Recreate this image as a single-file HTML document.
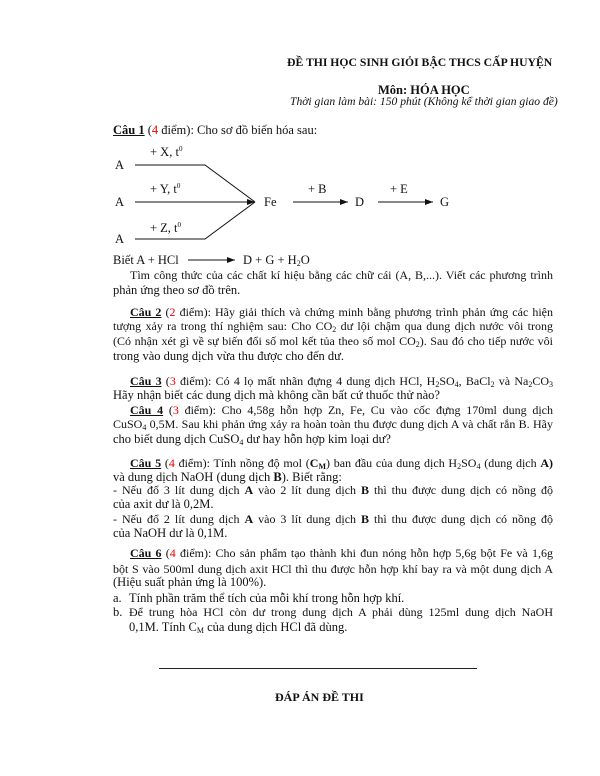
<!DOCTYPE html>
<html><head><meta charset="utf-8"><style>
body{margin:0;background:#fff;}
#p{position:relative;width:600px;height:776px;background:#fff;font-family:"Liberation Serif",serif;font-size:12.5px;color:#111;}
.l{position:absolute;white-space:nowrap;line-height:16px;height:16px;}
.j{text-align:justify;text-align-last:justify;white-space:normal;overflow:hidden;font-size:12px;}
.r{color:#e00;}
u{text-decoration:underline;}
sub{font-size:8px;vertical-align:-2px;line-height:0;}
sup{font-size:7px;vertical-align:5px;line-height:0;}
</style></head><body><div id="p">
<div class="l" style="left:287px;top:55px;font-weight:bold;font-size:11.7px;">ĐỀ THI HỌC SINH GIỎI BẬC THCS CẤP HUYỆN</div>
<div class="l" style="left:378px;top:82px;font-weight:bold;">Môn: HÓA HỌC</div>
<div class="l" style="left:290px;top:94px;font-style:italic;font-size:11.6px;">Thời gian làm bài: 150 phút (Không kể thời gian giao đề)</div>
<div class="l" style="left:113px;top:122px;"><b><u>Câu 1</u></b> (<span class="r">4</span> điểm): Cho sơ đồ biến hóa sau:</div>

<svg style="position:absolute;left:0;top:0" width="600" height="300">
<defs><marker id="a" markerWidth="8" markerHeight="6" refX="8" refY="3" orient="auto" markerUnits="userSpaceOnUse"><path d="M0,0L8,3L0,6z" fill="#111"/></marker></defs>
<g stroke="#111" stroke-width="1" fill="none">
<path d="M135,165H205L255,202"/>
<path d="M135,202H255" marker-end="url(#a)"/>
<path d="M135,239H205L255,202"/>
<path d="M293,202H348" marker-end="url(#a)"/>
<path d="M378,202H433" marker-end="url(#a)"/>
<path d="M188,260H235" marker-end="url(#a)"/>
</g></svg>
<div class="l" style="left:115px;top:157px;">A</div>
<div class="l" style="left:115px;top:194px;">A</div>
<div class="l" style="left:115px;top:231px;">A</div>
<div class="l" style="left:150px;top:144px;">+ X, t<sup>0</sup></div>
<div class="l" style="left:150px;top:181px;">+ Y, t<sup>0</sup></div>
<div class="l" style="left:150px;top:220px;">+ Z, t<sup>0</sup></div>
<div class="l" style="left:264px;top:194px;">Fe</div>
<div class="l" style="left:308px;top:181px;">+ B</div>
<div class="l" style="left:355px;top:194px;">D</div>
<div class="l" style="left:390px;top:181px;">+ E</div>
<div class="l" style="left:440px;top:194px;">G</div>
<div class="l" style="left:113px;top:252px;">Biết A + HCl</div>
<div class="l" style="left:243px;top:252px;">D + G + H<sub>2</sub>O</div>

<div class="l j" style="left:130px;width:423px;top:267px;">Tìm công thức của các chất kí hiệu bằng các chữ cái (A, B,...). Viết các phương trình</div>
<div class="l" style="left:113px;top:282px;">phản ứng theo sơ đồ trên.</div>

<div class="l j" style="left:130px;width:423px;top:304px;"><b><u>Câu 2</u></b> (<span class="r">2</span> điểm): Hãy giải thích và chứng minh bằng phương trình phản ứng các hiện</div>
<div class="l j" style="left:113px;width:440px;top:318px;">tượng xảy ra trong thí nghiệm sau: Cho CO<sub>2</sub> dư lội chậm qua dung dịch nước vôi trong</div>
<div class="l j" style="left:113px;width:440px;top:333px;">(Có nhận xét gì về sự biến đổi số mol kết tủa theo số mol CO<sub>2</sub>). Sau đó cho tiếp nước vôi</div>
<div class="l" style="left:113px;top:348px;">trong vào dung dịch vừa thu được cho đến dư.</div>

<div class="l j" style="left:130px;width:423px;top:373px;"><b><u>Câu 3</u></b> (<span class="r">3</span> điểm): Có 4 lọ mất nhãn đựng 4 dung dịch HCl, H<sub>2</sub>SO<sub>4</sub>, BaCl<sub>2</sub> và Na<sub>2</sub>CO<sub>3</sub></div>
<div class="l" style="left:113px;top:387px;">Hãy nhận biết các dung dịch mà không cần bất cứ thuốc thử nào?</div>

<div class="l j" style="left:130px;width:423px;top:402px;"><b><u>Câu 4</u></b> (<span class="r">3</span> điểm): Cho 4,58g hỗn hợp Zn, Fe, Cu vào cốc đựng 170ml dung dịch</div>
<div class="l j" style="left:113px;width:440px;top:416px;">CuSO<sub>4</sub> 0,5M. Sau khi phản ứng xảy ra hoàn toàn thu được dung dịch A và chất rắn B. Hãy</div>
<div class="l" style="left:113px;top:431px;">cho biết dung dịch CuSO<sub>4</sub> dư hay hỗn hợp kim loại dư?</div>

<div class="l j" style="left:130px;width:423px;top:455px;"><b><u>Câu 5</u></b> (<span class="r">4</span> điểm): Tính nồng độ mol (<b>C<sub>M</sub></b>) ban đầu của dung dịch H<sub>2</sub>SO<sub>4</sub> (dung dịch <b>A)</b></div>
<div class="l" style="left:113px;top:469px;">và dung dịch NaOH (dung dịch <b>B</b>). Biết rằng:</div>
<div class="l j" style="left:113px;width:440px;top:482px;">- Nếu đổ 3 lít dung dịch <b>A</b> vào 2 lít dung dịch <b>B</b> thì thu được dung dịch có nồng độ</div>
<div class="l" style="left:113px;top:496px;">của axit dư là 0,2M.</div>
<div class="l j" style="left:113px;width:440px;top:511px;">- Nếu đổ 2 lít dung dịch <b>A</b> vào 3 lít dung dịch <b>B</b> thì thu được dung dịch có nồng độ</div>
<div class="l" style="left:113px;top:525px;">của NaOH dư là 0,1M.</div>

<div class="l j" style="left:130px;width:423px;top:545px;"><b><u>Câu 6</u></b> (<span class="r">4</span> điểm): Cho sản phẩm tạo thành khi đun nóng hỗn hợp 5,6g bột Fe và 1,6g</div>
<div class="l j" style="left:113px;width:440px;top:561px;">bột S vào 500ml dung dịch axit HCl thì thu được hỗn hợp khí bay ra và một dung dịch A</div>
<div class="l" style="left:113px;top:574px;">(Hiệu suất phản ứng là 100%).</div>
<div class="l" style="left:113px;top:590px;">a.</div>
<div class="l" style="left:129px;top:590px;">Tính phần trăm thể tích của mỗi khí trong hỗn hợp khí.</div>
<div class="l" style="left:113px;top:604px;">b.</div>
<div class="l j" style="left:129px;width:424px;top:604px;">Để trung hòa HCl còn dư trong dung dịch A phải dùng 125ml dung dịch NaOH</div>
<div class="l" style="left:129px;top:619px;">0,1M. Tính C<sub>M</sub> của dung dịch HCl đã dùng.</div>

<div style="position:absolute;left:159px;top:668px;width:318px;height:1px;background:#222;"></div>
<div class="l" style="left:275px;top:689px;font-weight:bold;font-size:12px;">ĐÁP ÁN ĐỀ THI</div>
</div></body></html>
